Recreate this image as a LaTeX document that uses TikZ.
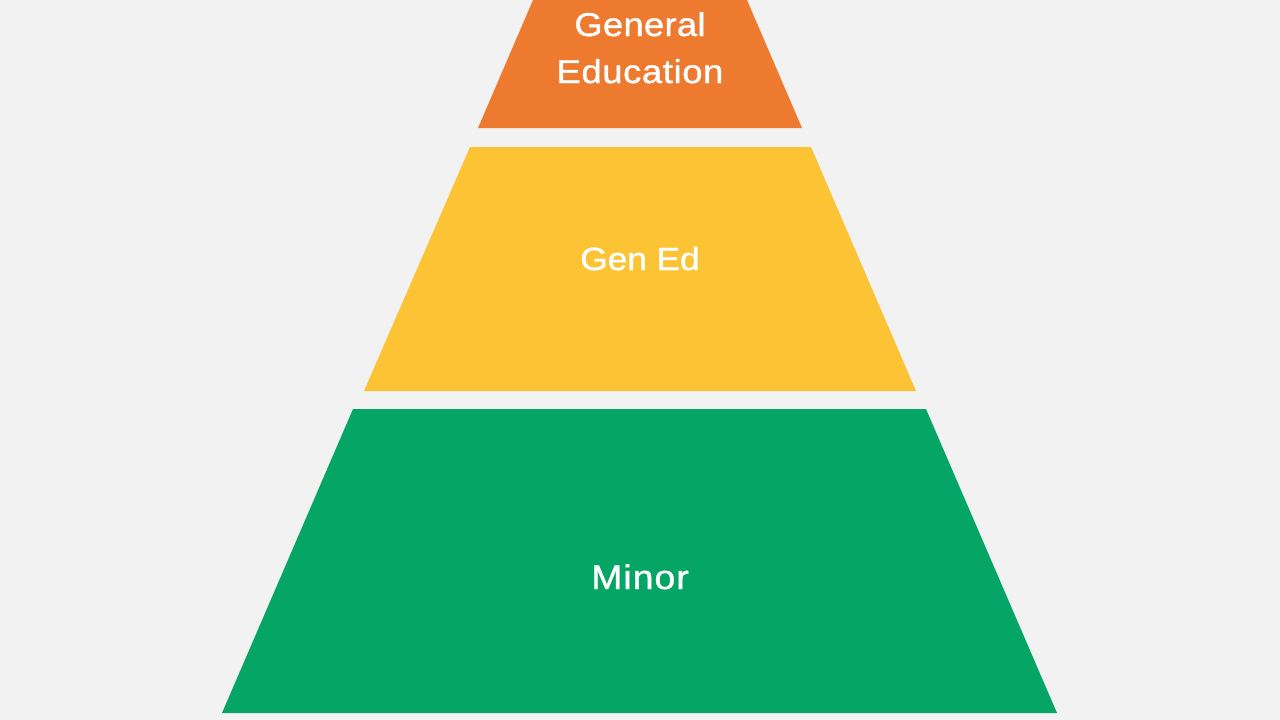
\documentclass[tikz,border=0pt]{standalone}
\usepackage{fontspec}
\setmainfont{Liberation Sans}[FakeStretch=1.1, FakeBold=1.2]
\definecolor{bgc}{HTML}{F2F2F2}
\definecolor{orangec}{HTML}{EE7A30}
\definecolor{yellowc}{HTML}{FCC434}
\definecolor{greenc}{HTML}{04A565}
\tikzset{
  tier/.style={draw=none},
  label/.style={text=white, inner sep=0pt, anchor=base}
}
\begin{document}
\begin{tikzpicture}[x=1pt,y=-1pt]
\fill[bgc] (0,0) rectangle (1280,720);
\useasboundingbox (0,0) rectangle (1280,720);
% tiers
\fill[orangec, tier] (533,0) -- (747,0) -- (802,128) -- (478,128) -- cycle;
\fill[yellowc, tier] (470,147) -- (811,147) -- (916,391) -- (364,391) -- cycle;
\fill[greenc, tier] (353,409) -- (926,409) -- (1057,713) -- (222,713) -- cycle;
% labels
\node[label, font=\fontsize{33}{38}\selectfont\addfontfeature{LetterSpace=1}] (gen) at (640,36) {General};
\node[label, font=\fontsize{33}{38}\selectfont\addfontfeature{LetterSpace=2}] (edu) at (640,83) {Education};
\node[label, font=\fontsize{32}{36}\selectfont] (ged) at (640,270) {Gen Ed};
\node[label, font=\fontsize{34}{38}\selectfont\addfontfeature{LetterSpace=3}] (minor) at (640,589) {Minor};
\end{tikzpicture}
\end{document}
